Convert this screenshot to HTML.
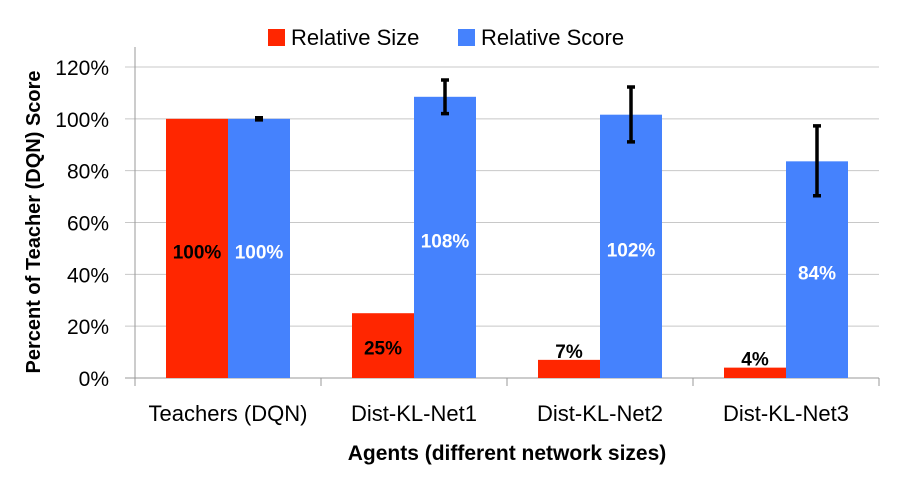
<!DOCTYPE html>
<html><head><meta charset="utf-8"><style>
body{margin:0;background:#fff}
svg text{font-family:"Liberation Sans",sans-serif}
</style></head><body>
<svg width="898" height="489" xmlns="http://www.w3.org/2000/svg">
<g id="grid"></g>
<g id="bars"></g>
<g id="labels"></g>
<g>
<rect x="268" y="29" width="17" height="17" fill="#ff2600"/>
<text x="291" y="45" font-size="22" fill="#000">Relative Size</text>
<rect x="458" y="29" width="17" height="17" fill="#4582fd"/>
<text x="481" y="45" font-size="22" fill="#000">Relative Score</text>
</g>
<text x="507" y="460" font-size="21" font-weight="bold" text-anchor="middle">Agents (different network sizes)</text>
<text transform="translate(40,222) rotate(-90)" font-size="20" font-weight="bold" text-anchor="middle">Percent of Teacher (DQN) Score</text>
</svg>
<script>
const categories=["Teachers (DQN)","Dist-KL-Net1","Dist-KL-Net2","Dist-KL-Net3"];
const sizeValues=[100,25,7,4];
const scoreValues=[100,108.5,101.6,83.6];
const errLow=[99.6,102,91.1,70.3];
const errHigh=[100.4,115,112.3,97.3];
const sizeLabels=["100%","25%","7%","4%"];
const scoreLabels=["100%","108%","102%","84%"];
const yTicks=[0,20,40,60,80,100,120];
const NS="http://www.w3.org/2000/svg";
const X0=135,X1=879,Y0=378,Y120=67;
const y=v=>Y0-(v/120)*(Y0-Y120);
const band=(X1-X0)/categories.length;
const bw=62;
function mk(t,a,p){const e=document.createElementNS(NS,t);for(const k in a)e.setAttribute(k,a[k]);p.appendChild(e);return e;}
const grid=document.getElementById('grid'),bars=document.getElementById('bars'),labels=document.getElementById('labels');
yTicks.forEach(t=>{
 const l=mk('line',{x1:X0-10,x2:X1,y1:y(t),y2:y(t),stroke:t===0?'#999':'#c8c8c8','stroke-width':1},grid);
 
 
 const tx=mk('text',{x:109,y:y(t)+8,'font-size':21,'text-anchor':'end'},grid);
 tx.textContent=t+'%';
 
 
});
const ax=mk('line',{x1:X0,x2:X0,y1:Y120-20,y2:Y0+8,stroke:'#999'},grid);


categories.forEach((c,i)=>{
 const cx=X0+band*(i+0.5);
 const tk=mk('line',{x1:X0+band*(i+1),x2:X0+band*(i+1),y1:Y0,y2:Y0+8,stroke:'#999'},grid);
 
 
 const r=mk('rect',{x:cx-bw,y:y(sizeValues[i]),width:bw,height:Y0-y(sizeValues[i]),fill:'#ff2600'},bars);
 
 
 const b=mk('rect',{x:cx,y:y(scoreValues[i]),width:bw,height:Y0-y(scoreValues[i]),fill:'#4582fd'},bars);
 
 
 const ex=cx+bw/2;
 const e=mk('path',{d:`M${ex},${y(errHigh[i])}V${y(errLow[i])}M${ex-4},${y(errHigh[i])}H${ex+4}M${ex-4},${y(errLow[i])}H${ex+4}`,stroke:'#000','stroke-width':3.5,fill:'none'},bars);
 
 
 const sv=sizeValues[i];
 let sy=sv>15?(y(sv)+Y0)/2+9:y(sv)-2;
 if(sv>60)sy=y(sv/2)+10;
 const sl=mk('text',{x:cx-bw/2,y:sy,'font-size':19,'font-weight':'bold','text-anchor':'middle',fill:'#000'},labels);
 sl.textContent=sizeLabels[i];
 
 
 const sc=mk('text',{x:ex,y:y(scoreValues[i]/2)+10,'font-size':19,'font-weight':'bold','text-anchor':'middle',fill:'#fff'},labels);
 sc.textContent=scoreLabels[i];
 
 
 const xl=mk('text',{x:cx,y:421,'font-size':22,'text-anchor':'middle'},labels);
 xl.textContent=c;
 
 
});
</script>
</body></html>
